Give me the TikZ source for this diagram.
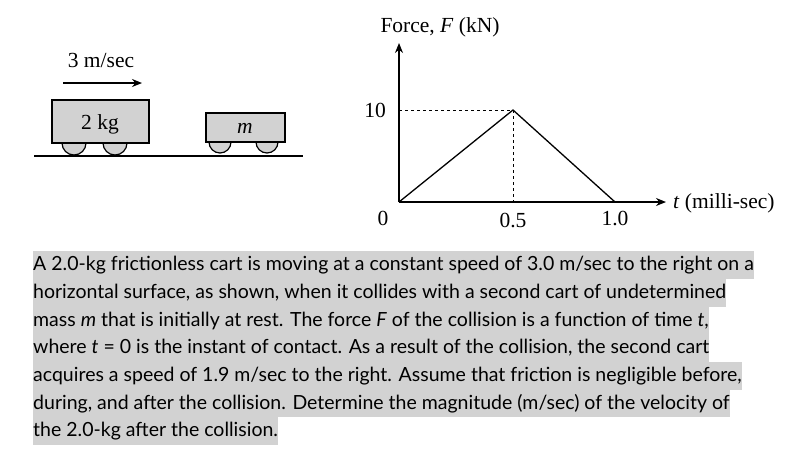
\documentclass[tikz,border=0pt]{standalone}
\usepackage{fontspec}
\usetikzlibrary{arrows.meta}
\setmainfont{Liberation Serif}
\newfontfamily\latof{Lato}
\begin{document}
\begin{tikzpicture}[x=1pt,y=-1pt,
 lbl/.style={font=\fontsize{21.5}{24}\selectfont, inner sep=0pt},
 cartbox/.style={draw, fill=gray!35, line width=1.2pt},
 wheel/.style={draw, fill=gray!35, line width=1.2pt},
 ax/.style={line width=1.3pt, -{Stealth[length=10pt,width=8pt]}},
 para/.style={fill=gray!35, anchor=north west, inner xsep=0pt, inner ysep=0pt, minimum height=27.7pt, text depth=0.3em, font=\latof\fontsize{19.5}{22}\selectfont}]
\useasboundingbox (0,0) rectangle (798,467);
% carts
\draw[wheel] (62,143) arc[start angle=180,end angle=0,radius=12];
\draw[wheel] (103,143) arc[start angle=180,end angle=0,radius=12];
\draw[wheel] (209,142) arc[start angle=180,end angle=0,radius=11];
\draw[wheel] (256,142) arc[start angle=180,end angle=0,radius=11];
\draw[cartbox] (52,100) rectangle (149,143);
\draw[cartbox] (206,113) rectangle (285,142);
\node[lbl] (kg) at (100,124) {2 kg};
\node[lbl] (m) at (245,128) {\itshape m};
\draw[line width=1.4pt] (34,156) -- (303,156);
\coordinate (a1) at (63,83); \coordinate (a2) at (142,83);
\draw[ax] (a1) -- (a2);
\node[lbl] (v) at (101,60) {3 m/sec};
% graph
\coordinate (O) at (399,202);
\coordinate (P) at (513,110);
\coordinate (E) at (615,202);
\coordinate (Y) at (399,43);
\coordinate (X) at (666,202);
\coordinate (Y10) at (399,110);
\coordinate (P0) at (513,202);
\draw[ax] (O) -- (Y);
\draw[ax] (O) -- (X);
\draw[line width=1.3pt] (O) -- (P) -- (E);
\draw[dashed, line width=1pt] (Y10) -- (P) -- (P0);
\node[lbl] (fl) at (440,27) {Force, \textit{F} (kN)};
\node[lbl] (ten) at (375,110) {10};
\node[lbl] (zero) at (383,218) {0};
\node[lbl] (half) at (513,220) {0.5};
\node[lbl] (one) at (615,218) {1.0};
\node[lbl, anchor=west] (tl) at (673,203) {\textit{t} (milli-sec)};
% text
\node[para] (l1) at (33,251) {A 2.0-kg frictionless cart is moving at a constant speed of 3.0 m/sec to the right on a};
\node[para] (l2) at (33,278.7) {horizontal surface, as shown, when it collides with a second cart of undetermined};
\node[para] (l3) at (33,306.4) {mass \textit{m} that is initially at rest. The force \textit{F} of the collision is a function of time \textit{t},};
\node[para] (l4) at (33,334.1) {where \textit{t} = 0 is the instant of contact. As a result of the collision, the second cart};
\node[para] (l5) at (33,361.8) {acquires a speed of 1.9 m/sec to the right. Assume that friction is negligible before,};
\node[para] (l6) at (33,389.5) {during, and after the collision. Determine the magnitude (m/sec) of the velocity of};
\node[para] (l7) at (33,417.2) {the 2.0-kg after the collision.};
\end{tikzpicture}
\end{document}
